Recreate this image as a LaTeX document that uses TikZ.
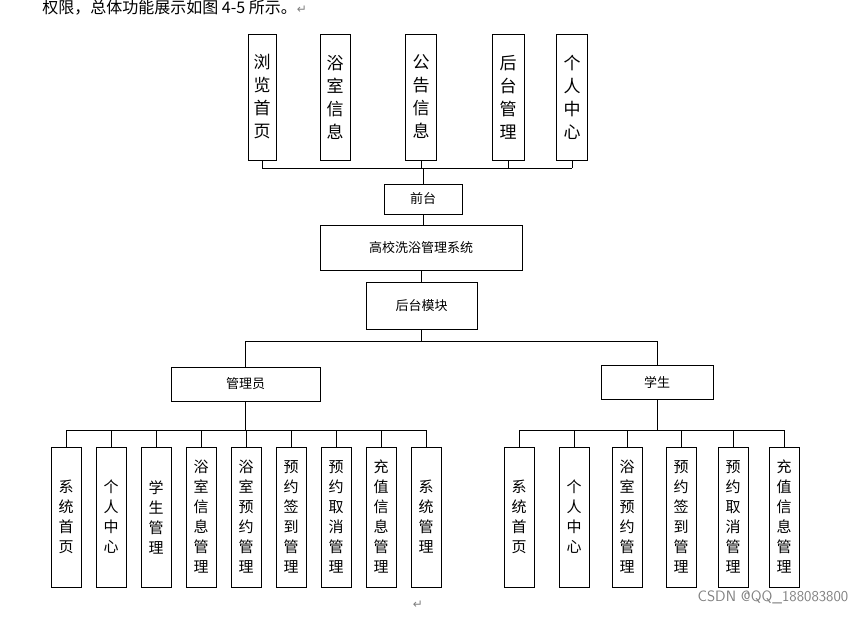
\documentclass[tikz,border=0pt]{standalone}
\usepackage{fontspec}
\newfontfamily\cjk{Noto Sans CJK SC}
\newfontfamily\djv{DejaVu Sans}
\begin{document}
\begin{tikzpicture}[x=1pt,y=-1pt,line width=0.8pt,
  box/.style={draw,inner sep=0pt,font=\cjk\fontsize{13}{15}\selectfont},
  vbox/.style={draw,inner sep=0pt,font=\cjk\fontsize{15}{20}\selectfont,align=center},
  tbox/.style={draw,inner sep=0pt,font=\cjk\fontsize{17}{23}\selectfont,align=center}]
\useasboundingbox (0,0) rectangle (866,616);
\node[anchor=west,font=\cjk\fontsize{16}{18}\selectfont,inner sep=0pt] (cap) at (42,8) {权限，总体功能展示如图 4-5 所示。{\djv\fontsize{12}{14}\selectfont\color{gray}↵}};
% top boxes
\foreach \n/\x/\w/\t in {a/262/28/浏\\览\\首\\页, b/335/30/浴\\室\\信\\息, c/421/31/公\\告\\信\\息, d/508/32/后\\台\\管\\理, e/572/31/个\\人\\中\\心}{
  \node[tbox,minimum width=\w,minimum height=126] (t\n) at (\x,97) {\t};
}
\node[box,minimum width=78,minimum height=30] (qt) at (423,199) {前台};
\node[box,minimum width=202,minimum height=45] (sys) at (421,247.5) {高校洗浴管理系统};
\node[box,minimum width=111,minimum height=47] (ht) at (421.5,305.5) {后台模块};
\node[box,minimum width=149,minimum height=34] (adm) at (245.5,384) {管理员};
\node[box,minimum width=112,minimum height=34] (stu) at (657,382) {学生};
\coordinate (tb) at (0,168);
\foreach \n in {a,b,c,d,e} \draw (t\n.south) -- (t\n.south |- tb);
\draw (ta.south |- tb) -- (te.south |- tb);
\draw (qt.north) -- (qt.north |- tb);
\draw (qt.south) -- (qt.south |- sys.north);
\draw (sys.south -| ht.north) -- (ht.north);
\coordinate (mb) at (0,341);
\draw (ht.south) -- (ht.south |- mb);
\draw (adm.north |- mb) -- (stu.north |- mb);
\draw (adm.north |- mb) -- (adm.north);
\draw (stu.north |- mb) -- (stu.north);
% admin children
\coordinate (ab) at (0,430);
\foreach \n/\x/\t in {1/66/系\\统\\首\\页, 2/111/个\\人\\中\\心, 3/156/学\\生\\管\\理, 4/201/浴\\室\\信\\息\\管\\理, 5/246/浴\\室\\预\\约\\管\\理, 6/291/预\\约\\签\\到\\管\\理, 7/336/预\\约\\取\\消\\管\\理, 8/381/充\\值\\信\\息\\管\\理, 9/426/系\\统\\管\\理}{
  \node[vbox,minimum width=30,minimum height=140] (a\n) at (\x,517) {\t};
  \draw (a\n.north) -- (a\n.north |- ab);
}
\draw (a1.north |- ab) -- (a9.north |- ab);
\draw (adm.south) -- (adm.south |- ab);
% student children
\foreach \n/\x/\t in {1/519/系\\统\\首\\页, 2/574/个\\人\\中\\心, 3/627/浴\\室\\预\\约\\管\\理, 4/681/预\\约\\签\\到\\管\\理, 5/733/预\\约\\取\\消\\管\\理, 6/784/充\\值\\信\\息\\管\\理}{
  \node[vbox,minimum width=30,minimum height=140] (s\n) at (\x,517) {\t};
  \draw (s\n.north) -- (s\n.north |- ab);
}
\draw (s1.north |- ab) -- (s6.north |- ab);
\draw (stu.south) -- (stu.south |- ab);
\node[font=\djv\fontsize{12}{14}\selectfont,text=gray] (ret) at (418,605) {↵};
\node[anchor=east,font=\fontsize{15}{17}\selectfont\sffamily,text=gray] (csdn) at (852,597) {CSDN @QQ\_188083800};
\end{tikzpicture}
\end{document}
